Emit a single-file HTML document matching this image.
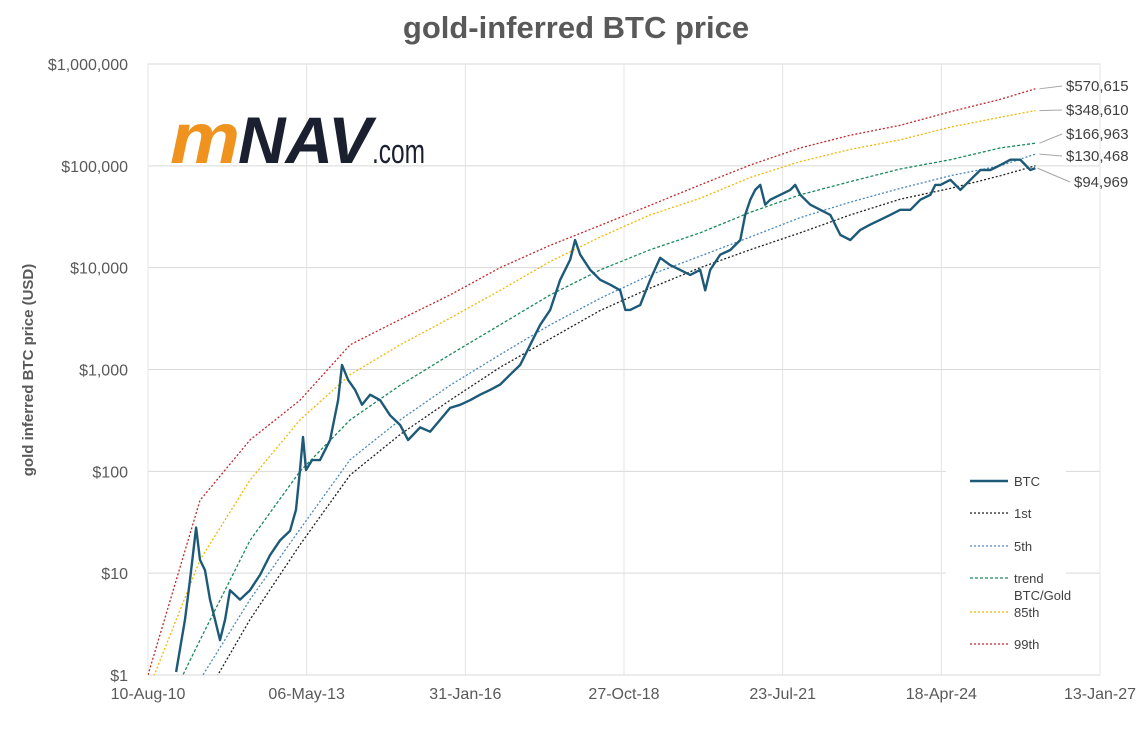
<!DOCTYPE html>
<html><head><meta charset="utf-8">
<style>
html,body{margin:0;padding:0;width:1146px;height:733px;overflow:hidden;background:#fff;font-family:"Liberation Sans",sans-serif;}
svg{display:block}
</style></head><body>
<svg id="chart" width="1146" height="733" viewBox="0 0 1146 733">
<text x="576" y="38" text-anchor="middle" font-size="31" font-weight="bold" fill="#595959">gold-inferred BTC price</text>
<text transform="translate(33,370) rotate(-90)" text-anchor="middle" font-size="15" font-weight="bold" fill="#595959">gold inferred BTC price (USD)</text>
<g id="grid"></g>
<g id="series"></g>
<g>
<text x="170" y="163" font-size="72" font-weight="bold" font-style="italic" fill="#f0931e" textLength="70" lengthAdjust="spacingAndGlyphs">m</text>
<text x="238" y="163" font-size="66" font-weight="bold" font-style="italic" fill="#1a2030" textLength="134" lengthAdjust="spacingAndGlyphs">NAV</text>
<text x="372" y="163" font-size="34" fill="#1a2030" textLength="53" lengthAdjust="spacingAndGlyphs">.com</text>
</g>
<g id="legend"></g>
<g id="labels"></g>
</svg>
<script>
const days=[0,328,643,958,1274,1589,1904,2219,2535,2850,3165,3480,3796,4111,4426,4741,5057,5372,5593];
const p99=[1,52,203,500,1750,3100,5400,10000,16600,26000,41000,65000,102000,150000,200000,250000,340000,450000,570615];
const p85=[0.7,13.5,82,320,890,1750,3200,6000,11500,20000,33000,48000,77000,110000,145000,180000,240000,300000,348610];
const trend=[0.2,2.2,21,100,320,700,1400,2750,5400,9500,15000,22000,35000,52000,70000,93000,115000,150000,166963];
const p05=[0.1,0.9,5.5,27,130,320,700,1400,2750,5000,8500,13000,20000,31000,44000,60000,80000,100000,130468];
const p01=[0.05,0.5,3.5,19,92,230,500,1050,2000,3800,6300,10000,15000,22000,33000,47000,60000,80000,100000];
const btcDays=[177,233,265,303,328,359,391,422,454,486,517,580,643,706,769,832,895,933,958,977,996,1034,1084,1148,1198,1223,1261,1305,1349,1400,1463,1526,1589,1639,1715,1778,1841,1904,1967,2030,2093,2156,2219,2282,2346,2409,2472,2535,2598,2661,2692,2724,2787,2850,2913,2976,3008,3039,3102,3165,3228,3291,3354,3417,3480,3512,3543,3606,3670,3733,3764,3796,3827,3859,3890,3922,3985,4048,4079,4111,4174,4237,4300,4363,4426,4489,4552,4615,4678,4741,4805,4868,4931,4962,4994,5057,5120,5183,5246,5309,5372,5435,5498,5530,5561,5593];
const btc=[1.07,3.5,8.6,28,13.5,10.7,5.5,3.5,2.2,3.5,6.8,5.5,6.8,9.6,15,21,26,42,103,218,103,129,129,203,500,1110,790,630,450,565,500,355,285,203,270,245,320,420,450,500,565,630,710,890,1110,1750,2750,3850,7600,12000,18700,13400,9500,7600,6800,6000,3850,3850,4300,7600,12500,10600,9500,8500,9500,6000,9500,13400,14900,18700,33000,46500,58000,65000,41500,46500,52000,58000,65000,52000,41500,37000,33000,21000,18700,23500,26500,29500,33000,37000,37000,46500,52000,65000,65000,73000,58000,73000,91000,91000,102000,115000,115000,102000,91000,94969];
const yTicks=[1,10,100,1000,10000,100000,1000000];
const yTickLabels=["$1","$10","$100","$1,000","$10,000","$100,000","$1,000,000"];
const xTicks=[0,1000,2000,3000,4000,5000,6000];
const xTickLabels=["10-Aug-10","06-May-13","31-Jan-16","27-Oct-18","23-Jul-21","18-Apr-24","13-Jan-27"];
const endLabels=["$570,615","$348,610","$166,963","$130,468","$94,969"];

const X0=148,X1=1100,Y0=675,Y1=64;
const xs=d=>X0+(d/6000)*(X1-X0);
const ys=v=>Y0-(Math.log10(v)/6)*(Y0-Y1);
const NS="http://www.w3.org/2000/svg";
function mk(tag,attrs,parent){const e=document.createElementNS(NS,tag);for(const k in attrs)e.setAttribute(k,attrs[k]);parent.appendChild(e);return e;}
const grid=document.getElementById('grid');
mk('rect',{x:X0,y:Y1,width:X1-X0,height:Y0-Y1,fill:'none',stroke:'#d9d9d9'},grid);
yTicks.forEach((t,i)=>{
  const l=mk('line',{x1:X0,x2:X1,y1:ys(t),y2:ys(t),stroke:'#d9d9d9'},grid);
  
  
  const tx=mk('text',{x:128,y:ys(t)+6,'text-anchor':'end','font-size':16,fill:'#595959'},grid);
  tx.textContent=yTickLabels[i];
  
  
});
xTicks.forEach((t,i)=>{
  const l=mk('line',{x1:xs(t),x2:xs(t),y1:Y1,y2:Y0,stroke:'#e4e4e4'},grid);
  
  
  const tx=mk('text',{x:xs(t),y:699,'text-anchor':'middle','font-size':16,fill:'#595959'},grid);
  tx.textContent=xTickLabels[i];
  
  
});
const ser=document.getElementById('series');
const clip=mk('clipPath',{id:'pc'},ser);mk('rect',{x:X0,y:Y1,width:X1-X0,height:Y0-Y1},clip);
function path(dd,vv,color,w,dash,name){
  let d='';dd.forEach((x,i)=>{d+=(i?'L':'M')+xs(x).toFixed(1)+','+ys(vv[i]).toFixed(1);});
  const p=mk('path',{d:d,fill:'none',stroke:color,'stroke-width':w,'stroke-dasharray':dash,'clip-path':'url(#pc)','stroke-linejoin':'round'},ser);
  
  
}
path(days,p99,'#c0282d',1.3,'2 2','line-99th');
path(days,p85,'#f2b705',1.3,'2 2','line-85th');
path(days,trend,'#1a8a5a',1.3,'3 2','line-trend');
path(days,p05,'#4a88bd',1.3,'2 2','line-5th');
path(days,p01,'#222',1.3,'2 2','line-1st');
path(btcDays,btc,'#1d5a78',2.4,'none','line-btc');
const lab=document.getElementById('labels');
const ends=[p99[p99.length-1],p85[p85.length-1],trend[trend.length-1],p05[p05.length-1],btc[btc.length-1]];
const labY=[86,110,134,156,182];
ends.forEach((v,i)=>{
  const ex=xs(days[days.length-1])+(i==4?2:4), ey=ys(v);
  const lx=i==4?1070:1062;
  const l=mk('line',{x1:ex,y1:ey,x2:lx,y2:labY[i],stroke:'#a6a6a6','stroke-width':1},lab);
  
  
  const t=mk('text',{x:lx+4,y:labY[i]+5,'font-size':15,fill:'#404040'},lab);
  t.textContent=endLabels[i];
  
  
});
const lg=document.getElementById('legend');
mk('rect',{x:946,y:466,width:120,height:190,fill:'#fff'},lg);
const items=[['BTC','#1d5a78',2.4,'none',481],['1st','#222',1.2,'2 2',513],['5th','#4a88bd',1.2,'2 2',546],['trend','#1a8a5a',1.2,'3 2',578],['85th','#f2b705',1.2,'2 2',612],['99th','#c0282d',1.2,'2 2',644]];
items.forEach(it=>{
  const g=mk('g',{},lg);
  
  
  mk('line',{x1:970,x2:1008,y1:it[4],y2:it[4],stroke:it[1],'stroke-width':it[2],'stroke-dasharray':it[3]},g);
  const t=mk('text',{x:1014,y:it[4]+5,'font-size':13,fill:'#404040'},g);t.textContent=it[0];
});
const bg=mk('text',{x:1014,y:600,'font-size':13,fill:'#404040'},lg);bg.textContent='BTC/Gold';


</script>
</body></html>
